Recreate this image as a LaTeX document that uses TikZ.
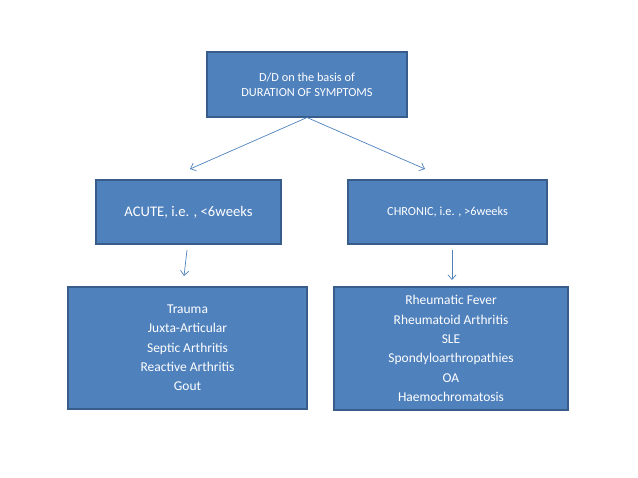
\documentclass[tikz,border=0pt]{standalone}
\usepackage{fontspec}
\setmainfont{Carlito}
\usetikzlibrary{arrows.meta}
\definecolor{bfill}{HTML}{4F81BD}
\definecolor{bline}{HTML}{385D8A}
\begin{document}
\begin{tikzpicture}[x=0.03cm,y=-0.03cm,
box/.style={draw=bline,fill=bfill,line width=0.9pt,text=white,align=center,inner sep=0pt},
arr/.style={draw=bfill,line width=0.6pt,-{Straight Barb[length=4pt,width=7pt]}}]
\useasboundingbox (0,0) rectangle (638,478);
\node[box,minimum width=200*0.03cm,minimum height=65*0.03cm,font=\fontsize{10.5}{13}\selectfont] (top) at (307,84.5) {D/D on the basis of\\DURATION OF SYMPTOMS};
\node[box,minimum width=185*0.03cm,minimum height=64*0.03cm,font=\fontsize{12.5}{15}\selectfont] (acute) at (188.5,212) {ACUTE, i.e. , <6weeks};
\node[box,minimum width=199*0.03cm,minimum height=64*0.03cm,font=\fontsize{10.5}{13}\selectfont] (chronic) at (447.5,212) {CHRONIC, i.e. , >6weeks};
\node[box,minimum width=239*0.03cm,minimum height=122*0.03cm,font=\fontsize{11.5}{16.5}\selectfont] (l) at (187.5,348) {Trauma\\Juxta-Articular\\Septic Arthritis\\Reactive Arthritis\\Gout};
\node[box,minimum width=234*0.03cm,minimum height=123*0.03cm,font=\fontsize{11.5}{16.5}\selectfont] (r) at (451,348.5) {Rheumatic Fever\\Rheumatoid Arthritis\\SLE\\Spondyloarthropathies\\OA\\Haemochromatosis};
\coordinate (a1) at (190,169); \coordinate (a2) at (425,169);
\coordinate (b1) at (187,250); \coordinate (b2) at (184,276);
\coordinate (c1) at (452,250); \coordinate (c2) at (452,280);
\draw[arr] (top.south) -- (a1);
\draw[arr] (top.south) -- (a2);
\draw[arr] (b1) -- (b2);
\draw[arr] (c1) -- (c2);
\end{tikzpicture}
\end{document}
